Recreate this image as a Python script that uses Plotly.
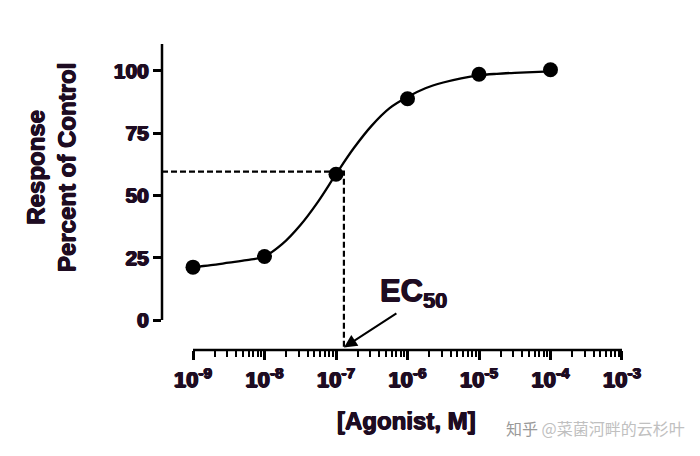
import math
import plotly.graph_objects as go

# ---- data ----
conc = [1e-9, 1e-8, 1e-7, 1e-6, 1e-5, 1e-4]
response = [21.2, 25.5, 58.5, 88.8, 98.6, 100.4]

curve_logx = [-9, -8.75, -8.5, -8.25, -8, -7.75, -7.5, -7.25, -7, -6.75, -6.5, -6.25,
              -6, -5.75, -5.5, -5.25, -5, -4.75, -4.5, -4.25, -4]
curve_y = [21.2, 22.0, 23.0, 24.0, 25.5, 30.5, 38.0, 47.5, 58.5, 69.0, 78.0, 85.0,
           89.5, 93.0, 95.3, 97.0, 98.2, 98.8, 99.2, 99.5, 99.8]

ec50 = 1.29e-7
ec50_resp = 59.5

x_tickvals = [1e-9, 1e-8, 1e-7, 1e-6, 1e-5, 1e-4, 1e-3]
x_ticktext = ["10<sup>-9</sup>", "10<sup>-8</sup>", "10<sup>-7</sup>", "10<sup>-6</sup>",
              "10<sup>-5</sup>", "10<sup>-4</sup>", "10<sup>-3</sup>"]
y_tickvals = [0, 25, 50, 75, 100]

X_RANGE = [-9.4336, -2.888]
Y_RANGE = [-12.04, 110.75]

minor_vals = [m * 10 ** e for e in range(-9, -3) for m in range(2, 10)]

INK = "#1e0c22"
FONT = "Liberation Sans"
HEAVY = f"0.6px 0 0 {INK}, -0.6px 0 0 {INK}, 0 0.5px 0 {INK}"
HEAVIER = f"0.8px 0 0 {INK}, -0.8px 0 0 {INK}, 0 0.7px 0 {INK}, 0 -0.4px 0 {INK}"

# page layout (browser body adds an 8px offset)
OFF = 8
L, T, W, H = 162 - OFF, 44 - OFF, 468, 306


def px_x(px):
    return (px - OFF - L) / W


def px_y(py):
    return (T + H - (py - OFF)) / H


fig = go.Figure()

# dashed EC50 guides
fig.add_trace(go.Scatter(
    x=[10 ** X_RANGE[0], ec50, ec50], y=[ec50_resp, ec50_resp, Y_RANGE[0] + 0.8],
    mode="lines", line=dict(color="black", width=2.2, dash="6px,3px"),
    hoverinfo="skip", showlegend=False))

# fitted curve
fig.add_trace(go.Scatter(
    x=[10 ** v for v in curve_logx], y=curve_y, mode="lines",
    line=dict(color="black", width=2.3, shape="spline"), showlegend=False))

# data points
fig.add_trace(go.Scatter(
    x=conc, y=response, mode="markers",
    marker=dict(color="black", size=15), showlegend=False))

fig.update_layout(
    width=700, height=456,
    margin=dict(l=L, r=700 - L - W, t=T, b=456 - T - H),
    paper_bgcolor="white", plot_bgcolor="white",
    font=dict(family=FONT, color=INK),
    showlegend=False,
    xaxis=dict(
        type="log", range=X_RANGE, showgrid=False, zeroline=False, showline=False,
        tickvals=x_tickvals, ticktext=x_ticktext,
        ticks="outside", ticklen=9, tickwidth=2.5, tickcolor="black",
        ticklabelstandoff=1,
        tickfont=dict(size=22, family=FONT, color=INK, weight="bold", shadow=HEAVIER),
        minor=dict(tickvals=minor_vals, ticks="outside", ticklen=6, tickwidth=2,
                   tickcolor="black", showgrid=False),
    ),
    yaxis=dict(
        range=Y_RANGE, showgrid=False, zeroline=False, showline=False,
        tickvals=y_tickvals, ticktext=[str(v) for v in y_tickvals],
        ticks="outside", ticklen=8, tickwidth=2.5, tickcolor="black",
        tickfont=dict(size=21, family=FONT, color=INK, weight="bold", shadow=HEAVIER),
    ),
    shapes=[
        dict(type="line", xref="x", yref="paper", x0=x_tickvals[0], x1=x_tickvals[-1],
             y0=0, y1=0, line=dict(color="black", width=2.5)),
        dict(type="line", xref="paper", yref="y", x0=0, x1=0, y0=0, y1=Y_RANGE[1],
             line=dict(color="black", width=2.5)),
    ],
    annotations=[
        dict(text="Response<br>Percent of Control", xref="paper", yref="paper",
             x=px_x(51), y=px_y(168), textangle=-90, showarrow=False,
             xanchor="center", yanchor="middle",
             font=dict(size=24, family=FONT, color=INK, weight="bold", shadow=HEAVY)),
        dict(text="[Agonist, M]", xref="paper", yref="paper",
             x=px_x(406), y=px_y(420), showarrow=False,
             xanchor="center", yanchor="middle",
             font=dict(size=24, family=FONT, color=INK, weight="bold", shadow=HEAVY)),
        dict(text="EC<sub>50</sub>", xref="paper", yref="paper",
             x=px_x(378), y=px_y(293), showarrow=False, xanchor="left", yanchor="middle",
             font=dict(size=31, family=FONT, color=INK, weight="bold", shadow=HEAVY)),
        dict(text="", xref="x", yref="y", x=math.log10(ec50), y=-11.0,
             ax=54, ay=-35, showarrow=True, arrowhead=2, arrowsize=1.3,
             arrowwidth=2, arrowcolor="black"),
        dict(text="<span style='color:#9a9a9a'>知乎</span> @菜菌河畔的云杉叶",
             xref="paper", yref="paper",
             x=px_x(595), y=px_y(428), showarrow=False,
             xanchor="center", yanchor="middle",
             font=dict(size=16, family="Noto Sans CJK SC", color="#c0c0c0")),
    ],
)

fig.write_html("out.html")
